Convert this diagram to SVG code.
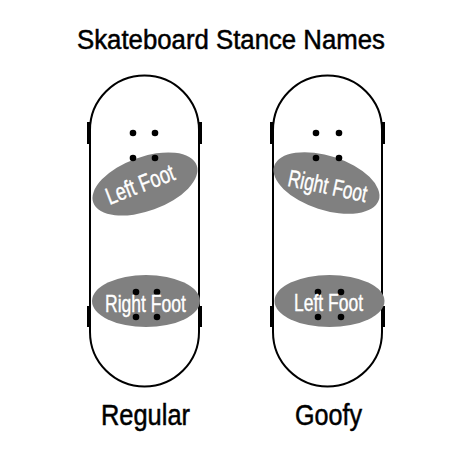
<svg xmlns="http://www.w3.org/2000/svg" width="474" height="474" viewBox="0 0 474 474">
<style>
.board{fill:none;stroke:#000;stroke-width:2}
.truck{fill:#000}
.dot{fill:#000}
.pad{fill:#808080}
.ft{font-family:"Liberation Sans Narrow","Liberation Sans",Arial,sans-serif;fill:#fff;stroke:#fff;stroke-width:0.4;font-size:24px;text-anchor:middle}
.lbl{font-family:"Liberation Sans Narrow","Liberation Sans",Arial,sans-serif;fill:#000;stroke:#000;stroke-width:0.5;text-anchor:middle}
</style>
<rect width="474" height="474" fill="#fff"/>
<text class="lbl" x="231" y="49" font-size="27" textLength="308" lengthAdjust="spacingAndGlyphs">Skateboard Stance Names</text>
<g id="regular">
<path class="board" d="M90,130 A54.5,54.5 0 0 1 199,130 L199,332 A54.5,54.5 0 0 1 90,332 Z"/>
<rect class="truck" x="87" y="122" width="4" height="22"/>
<rect class="truck" x="198" y="122" width="4" height="22"/>
<rect class="truck" x="87" y="306" width="4" height="21"/>
<rect class="truck" x="198" y="306" width="4" height="21"/>
<ellipse class="pad" cx="145" cy="184" rx="55" ry="27" transform="rotate(-20 145 184)"/>
<ellipse class="pad" cx="146" cy="301" rx="54" ry="26"/>
<circle class="dot" cx="133" cy="133" r="3.3"/>
<circle class="dot" cx="155" cy="133" r="3.3"/>
<circle class="dot" cx="133" cy="158" r="3.3"/>
<circle class="dot" cx="155" cy="158" r="3.3"/>
<circle class="dot" cx="136" cy="292" r="3.3"/>
<circle class="dot" cx="157" cy="292" r="3.3"/>
<circle class="dot" cx="136" cy="317" r="3.3"/>
<circle class="dot" cx="157" cy="317" r="3.3"/>
<text class="ft" x="143" y="192" transform="rotate(-21 143 192)" textLength="72" lengthAdjust="spacingAndGlyphs">Left Foot</text>
<text class="ft" x="145.5" y="312" textLength="81" lengthAdjust="spacingAndGlyphs">Right Foot</text>
<text class="lbl" x="145.5" y="425" font-size="29" textLength="89" lengthAdjust="spacingAndGlyphs">Regular</text>
</g>
<g id="goofy">
<path class="board" d="M273,130 A54.5,54.5 0 0 1 382,130 L382,332 A54.5,54.5 0 0 1 273,332 Z"/>
<rect class="truck" x="270" y="122" width="4" height="22"/>
<rect class="truck" x="381" y="122" width="4" height="22"/>
<rect class="truck" x="270" y="306" width="4" height="21"/>
<rect class="truck" x="381" y="306" width="4" height="21"/>
<ellipse class="pad" cx="326.5" cy="183" rx="55" ry="27" transform="rotate(18 326.5 183)"/>
<ellipse class="pad" cx="329.5" cy="301" rx="55" ry="26"/>
<circle class="dot" cx="316" cy="133" r="3.3"/>
<circle class="dot" cx="339" cy="133" r="3.3"/>
<circle class="dot" cx="316" cy="158" r="3.3"/>
<circle class="dot" cx="339" cy="158" r="3.3"/>
<circle class="dot" cx="318" cy="292" r="3.3"/>
<circle class="dot" cx="341" cy="292" r="3.3"/>
<circle class="dot" cx="318" cy="317" r="3.3"/>
<circle class="dot" cx="341" cy="317" r="3.3"/>
<text class="ft" x="326" y="194" transform="rotate(12 326 194)" textLength="80" lengthAdjust="spacingAndGlyphs">Right Foot</text>
<text class="ft" x="328.5" y="311" textLength="69" lengthAdjust="spacingAndGlyphs">Left Foot</text>
<text class="lbl" x="328.5" y="425" font-size="29" textLength="67" lengthAdjust="spacingAndGlyphs">Goofy</text>
</g>
</svg>
